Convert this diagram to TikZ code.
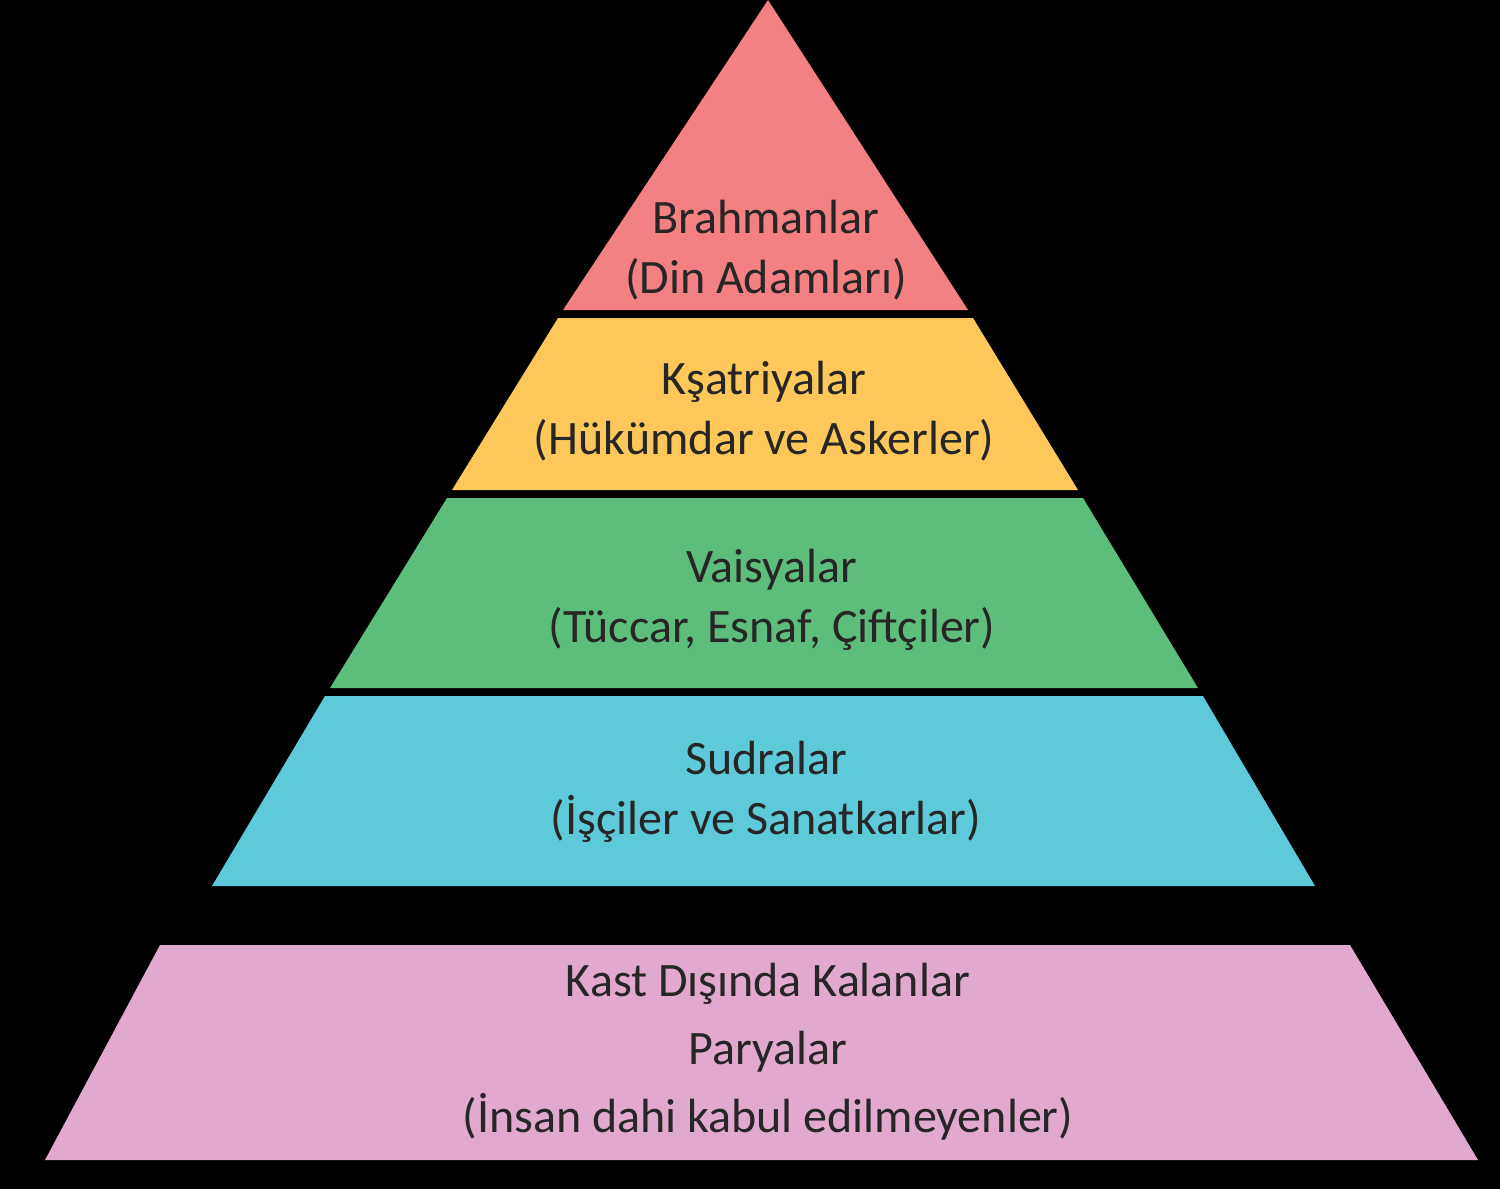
\documentclass[tikz,border=0pt]{standalone}
\usepackage{fontspec}
\setmainfont{Carlito}
\begin{document}
\begin{tikzpicture}[x=0.5pt,y=-0.5pt,
  lbl/.style={align=center,font=\fontsize{24}{30}\selectfont,text=black!85}]
\fill[black] (0,0) rectangle (1500,1189);
\useasboundingbox (0,0) rectangle (1500,1189);
\definecolor{cA}{HTML}{F38083}
\definecolor{cB}{HTML}{FDC75A}
\definecolor{cC}{HTML}{5DBD7D}
\definecolor{cD}{HTML}{5ECAD9}
\definecolor{cE}{HTML}{E2A9CF}
\fill[cA] (768,0) -- (968,310) -- (563,310) -- cycle;
\fill[cB] (558,318) -- (973,318) -- (1078,490) -- (452,490) -- cycle;
\fill[cC] (447,498) -- (1083,498) -- (1198,688) -- (330,688) -- cycle;
\fill[cD] (325,696) -- (1203,696) -- (1315,886) -- (212,886) -- cycle;
\fill[cE] (160,945) -- (1350,945) -- (1478,1160) -- (45,1160) -- cycle;
\node[lbl] (a) at (766,250) {Brahmanlar\\(Din Adamları)};
\node[lbl] (b) at (764,411) {Kşatriyalar\\(Hükümdar ve Askerler)};
\node[lbl] (c) at (772,600) {Vaisyalar\\(Tüccar, Esnaf, Çiftçiler)};
\node[lbl] (d) at (766,792) {Sudralar\\(İşçiler ve Sanatkarlar)};
\node[lbl,align=center,font=\fontsize{24}{34}\selectfont] (e) at (768,1052) {Kast Dışında Kalanlar\\Paryalar\\(İnsan dahi kabul edilmeyenler)};
\end{tikzpicture}
\end{document}
